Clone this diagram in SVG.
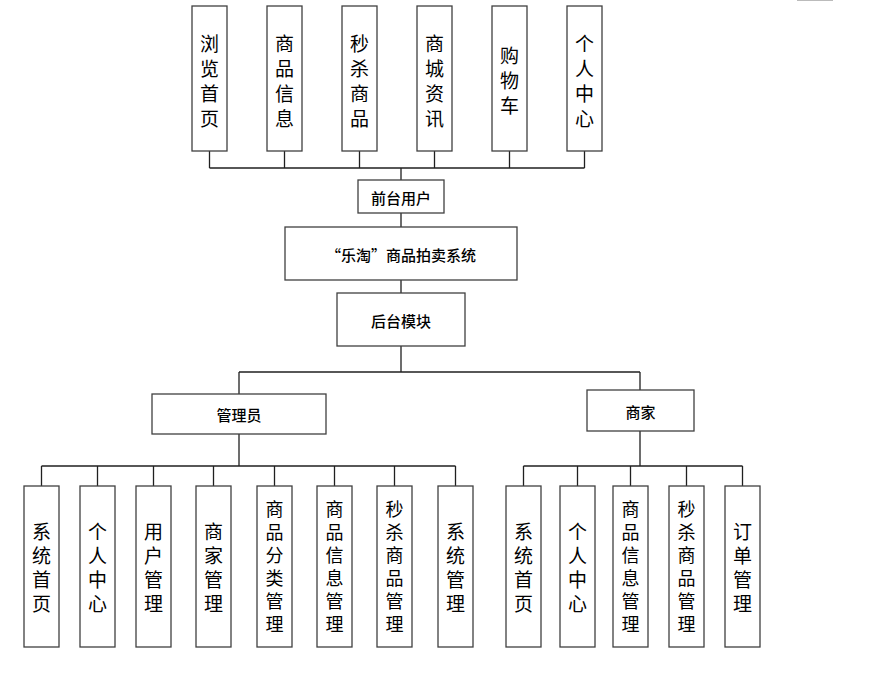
<svg xmlns="http://www.w3.org/2000/svg" width="871" height="677" viewBox="0 0 871 677">
<style>
.b{fill:#fff;stroke:#404040;stroke-width:1.3}
.t{font-family:"Noto Sans CJK SC","Liberation Sans",sans-serif;fill:#000;text-anchor:middle;dominant-baseline:central}
.v{font-size:19px}
.s{font-size:18px}
.h{font-size:15px;font-weight:500}
.c{fill:none;stroke:#202020;stroke-width:1.3}
</style>
<rect width="871" height="677" fill="#fff"/>
<line x1="797" y1="0.5" x2="833" y2="0.5" stroke="#bbb"/>
<g id="connectors">
<path class="c" d="M209.5 151V168M284.5 151V168M359.5 151V168M434.5 151V168M509.5 151V168M584.5 151V168M209.5 168H584.5M401 168V180M401 213V227M401 280V293M401 346V372M239 372H640M239 372V394M640 372V390M239 434V466M640 431V466M41.5 466H455.5M41.5 466V486M97.5 466V486M153.5 466V486M213.5 466V486M274.5 466V486M334.5 466V486M394.5 466V486M455.5 466V486M523.5 466H742.5M523.5 466V486M577.5 466V486M630.5 466V486M686.5 466V486M742.5 466V486"/>
</g>
<g id="n1"><rect class="b" x="192" y="6" width="35" height="145"/><text class="t v"><tspan x="209.5" y="42">浏</tspan><tspan x="209.5" y="67">览</tspan><tspan x="209.5" y="92">首</tspan><tspan x="209.5" y="117">页</tspan></text></g>
<g id="n2"><rect class="b" x="267" y="6" width="35" height="145"/><text class="t v"><tspan x="284.5" y="42">商</tspan><tspan x="284.5" y="67">品</tspan><tspan x="284.5" y="92">信</tspan><tspan x="284.5" y="117">息</tspan></text></g>
<g id="n3"><rect class="b" x="342" y="6" width="35" height="145"/><text class="t v"><tspan x="359.5" y="42">秒</tspan><tspan x="359.5" y="67">杀</tspan><tspan x="359.5" y="92">商</tspan><tspan x="359.5" y="117">品</tspan></text></g>
<g id="n4"><rect class="b" x="417" y="6" width="35" height="145"/><text class="t v"><tspan x="434.5" y="42">商</tspan><tspan x="434.5" y="67">城</tspan><tspan x="434.5" y="92">资</tspan><tspan x="434.5" y="117">讯</tspan></text></g>
<g id="n5"><rect class="b" x="492" y="6" width="35" height="145"/><text class="t v"><tspan x="509.5" y="54">购</tspan><tspan x="509.5" y="79">物</tspan><tspan x="509.5" y="104">车</tspan></text></g>
<g id="n6"><rect class="b" x="567" y="6" width="35" height="145"/><text class="t v"><tspan x="584.5" y="42">个</tspan><tspan x="584.5" y="67">人</tspan><tspan x="584.5" y="92">中</tspan><tspan x="584.5" y="117">心</tspan></text></g>
<g id="qt"><rect class="b" x="358" y="180" width="86" height="33"/><text class="t h" x="401" y="197">前台用户</text></g>
<g id="sys"><rect class="b" x="285" y="227" width="232" height="53"/><text class="t h" x="401" y="254">“乐淘”商品拍卖系统</text></g>
<g id="ht"><rect class="b" x="337" y="293" width="128" height="53"/><text class="t h" x="401" y="320">后台模块</text></g>
<g id="admin"><rect class="b" x="152" y="394" width="174" height="40"/><text class="t h" x="239" y="414">管理员</text></g>
<g id="shop"><rect class="b" x="587" y="390" width="107" height="41"/><text class="t h" x="640.5" y="411">商家</text></g>
<g id="a1"><rect class="b" x="24" y="486" width="35" height="161"/><text class="t v"><tspan x="41.5" y="530">系</tspan><tspan x="41.5" y="554">统</tspan><tspan x="41.5" y="578">首</tspan><tspan x="41.5" y="602">页</tspan></text></g>
<g id="a2"><rect class="b" x="80" y="486" width="35" height="161"/><text class="t v"><tspan x="97.5" y="530">个</tspan><tspan x="97.5" y="554">人</tspan><tspan x="97.5" y="578">中</tspan><tspan x="97.5" y="602">心</tspan></text></g>
<g id="a3"><rect class="b" x="136" y="486" width="35" height="161"/><text class="t v"><tspan x="153.5" y="530">用</tspan><tspan x="153.5" y="554">户</tspan><tspan x="153.5" y="578">管</tspan><tspan x="153.5" y="602">理</tspan></text></g>
<g id="a4"><rect class="b" x="196" y="486" width="35" height="161"/><text class="t v"><tspan x="213.5" y="530">商</tspan><tspan x="213.5" y="554">家</tspan><tspan x="213.5" y="578">管</tspan><tspan x="213.5" y="602">理</tspan></text></g>
<g id="a5"><rect class="b" x="257" y="486" width="35" height="161"/><text class="t s"><tspan x="274.5" y="508">商</tspan><tspan x="274.5" y="531">品</tspan><tspan x="274.5" y="554">分</tspan><tspan x="274.5" y="577">类</tspan><tspan x="274.5" y="600">管</tspan><tspan x="274.5" y="623">理</tspan></text></g>
<g id="a6"><rect class="b" x="317" y="486" width="35" height="161"/><text class="t s"><tspan x="334.5" y="508">商</tspan><tspan x="334.5" y="531">品</tspan><tspan x="334.5" y="554">信</tspan><tspan x="334.5" y="577">息</tspan><tspan x="334.5" y="600">管</tspan><tspan x="334.5" y="623">理</tspan></text></g>
<g id="a7"><rect class="b" x="377" y="486" width="35" height="161"/><text class="t s"><tspan x="394.5" y="508">秒</tspan><tspan x="394.5" y="531">杀</tspan><tspan x="394.5" y="554">商</tspan><tspan x="394.5" y="577">品</tspan><tspan x="394.5" y="600">管</tspan><tspan x="394.5" y="623">理</tspan></text></g>
<g id="a8"><rect class="b" x="438" y="486" width="35" height="161"/><text class="t v"><tspan x="455.5" y="530">系</tspan><tspan x="455.5" y="554">统</tspan><tspan x="455.5" y="578">管</tspan><tspan x="455.5" y="602">理</tspan></text></g>
<g id="m1"><rect class="b" x="506" y="486" width="35" height="161"/><text class="t v"><tspan x="523.5" y="530">系</tspan><tspan x="523.5" y="554">统</tspan><tspan x="523.5" y="578">首</tspan><tspan x="523.5" y="602">页</tspan></text></g>
<g id="m2"><rect class="b" x="560" y="486" width="35" height="161"/><text class="t v"><tspan x="577.5" y="530">个</tspan><tspan x="577.5" y="554">人</tspan><tspan x="577.5" y="578">中</tspan><tspan x="577.5" y="602">心</tspan></text></g>
<g id="m3"><rect class="b" x="613" y="486" width="35" height="161"/><text class="t s"><tspan x="630.5" y="508">商</tspan><tspan x="630.5" y="531">品</tspan><tspan x="630.5" y="554">信</tspan><tspan x="630.5" y="577">息</tspan><tspan x="630.5" y="600">管</tspan><tspan x="630.5" y="623">理</tspan></text></g>
<g id="m4"><rect class="b" x="669" y="486" width="35" height="161"/><text class="t s"><tspan x="686.5" y="508">秒</tspan><tspan x="686.5" y="531">杀</tspan><tspan x="686.5" y="554">商</tspan><tspan x="686.5" y="577">品</tspan><tspan x="686.5" y="600">管</tspan><tspan x="686.5" y="623">理</tspan></text></g>
<g id="m5"><rect class="b" x="725" y="486" width="35" height="161"/><text class="t v"><tspan x="742.5" y="530">订</tspan><tspan x="742.5" y="554">单</tspan><tspan x="742.5" y="578">管</tspan><tspan x="742.5" y="602">理</tspan></text></g>
</svg>
